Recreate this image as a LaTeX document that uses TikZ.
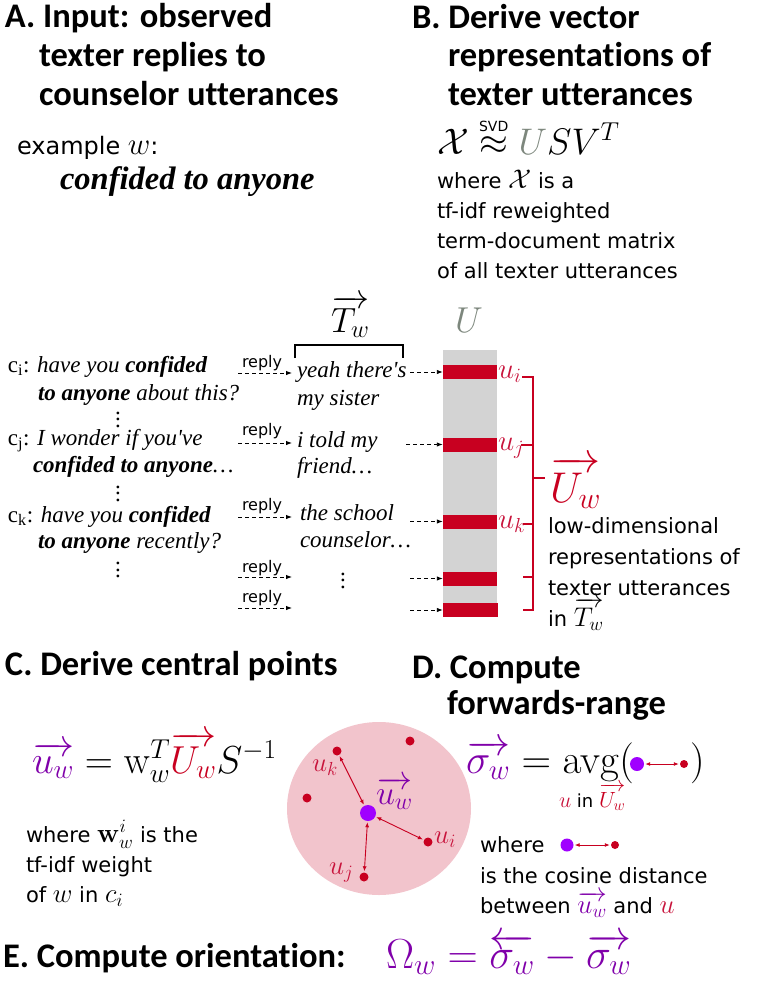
\RequirePackage{fix-cm}
\documentclass[tikz,border=0pt]{standalone}
\usepackage{amsmath}
\usepackage[no-math]{fontspec}
\usetikzlibrary{arrows.meta,shapes.geometric}
\newfontfamily\headfont{Carlito}[Ligatures=NoCommon]
\newfontfamily\bodyfont{DejaVu Sans}
\newfontfamily\serfont{Liberation Serif}
\definecolor{crim}{RGB}{200,0,32}
\definecolor{colgray}{RGB}{211,211,211}
\definecolor{umath}{RGB}{125,135,125}
\definecolor{purp}{RGB}{128,0,170}
\definecolor{dotpurp}{RGB}{160,0,255}
\definecolor{pinkc}{RGB}{242,196,204}
\definecolor{redtxt}{RGB}{200,20,60}
\newcommand\HeadF{\headfont\bfseries\fontsize{34.5}{39}\selectfont}
\newcommand\BodyF{\bodyfont\fontsize{21}{30}\selectfont}
\newcommand\ConvF{\serfont\fontsize{23}{27}\selectfont}
\newcommand\ReplyF{\bodyfont\fontsize{16}{16}\selectfont}
\newcommand\BM[1]{{\fontsize{27}{30}\selectfont$#1$}}
\newcommand\VD{\vbox{\serfont\fontsize{23}{27}\selectfont\baselineskip6.5pt\lineskiplimit0pt\hbox{.}\hbox{.}\hbox{.}}}
\tikzset{
  txt/.style={anchor=base west, inner sep=0pt, outer sep=0pt},
  head/.style={txt, font=\HeadF},
  body/.style={txt, font=\BodyF},
  conv/.style={txt, font=\ConvF},
  replylab/.style={txt, font=\ReplyF},
  dasharrow/.style={dash pattern=on 4pt off 3pt, line width=0.9pt, -{Latex[length=6pt,width=4.5pt]}},
  redbar/.style={rectangle, fill=crim, inner sep=0pt, minimum width=54pt, minimum height=14pt},
  reddot/.style={circle, fill=crim, inner sep=0pt, minimum size=9pt},
  purpdot/.style={circle, fill=dotpurp, inner sep=0pt, minimum size=16pt},
  dist/.style={crim, line width=0.9pt, {Latex[length=5pt,width=4pt]}-{Latex[length=5pt,width=4pt]}},
  vdotsn/.style={inner sep=0pt},
  bracketline/.style={crim, line width=1.1pt}
}
\begin{document}
\begin{tikzpicture}[x=1pt,y=-1pt]
\useasboundingbox (0,0) rectangle (759,989);
% ---------- A ----------
\node[head] (hA1) at (5,27) {A. Input: observed};
\node[head] (hA2) at (39,66) {texter replies to};
\node[head] (hA3) at (39,105) {counselor utterances};
\node[txt, font=\bodyfont\fontsize{24}{28}\selectfont] (ex) at (17,154) {example {\fontsize{31}{32}\selectfont$w$}:};
\node[txt, font=\serfont\bfseries\itshape\fontsize{32.5}{34}\selectfont] (exw) at (60,189) {confided to anyone};
% ---------- B ----------
\node[head] (hB1) at (412,28) {B. Derive vector};
\node[head] (hB2) at (448,66) {representations of};
\node[head] (hB3) at (448,105) {texter utterances};
\node[txt, font=\fontsize{37}{40}\selectfont] (svd) at (437,154)
  {$\mathcal{X} \overset{\hbox{\bodyfont\fontsize{14}{14}\selectfont SVD}}{\approx} {\color{umath}U} SV^T$};
\node[body] (bw1) at (437,188) {where \BM{\mathcal{X}} is a};
\node[body] (bw2) at (437,218) {tf-idf reweighted};
\node[body] (bw3) at (437,248) {term-document matrix};
\node[body] (bw4) at (437,278) {of all texter utterances};
% ---------- T_w bracket and U ----------
\node[txt, font=\fontsize{35}{36}\selectfont] (Tw) at (331,332) {$\overrightarrow{T_w}$};
\coordinate (brL) at (295,358);
\coordinate (brR) at (403,358);
\draw[line width=2pt] (brL) -- (295,345) -- (403,345) -- (brR);
\node[txt, font=\fontsize{36}{38}\selectfont] (Ulab) at (455,332) {$\color{umath}U$};
\fill[colgray] (443,350) rectangle (497,617);
\node[redbar] (b1) at (470,372) {};
\node[redbar] (b2) at (470,444.5) {};
\node[redbar] (b3) at (470,521.5) {};
\node[redbar] (b4) at (470,578.5) {};
\node[redbar, minimum width=55pt] (b5) at (470.5,610) {};
\node[txt, font=\fontsize{29}{30}\selectfont] (ui) at (498,378) {$\color{redtxt}u_i$};
\node[txt, font=\fontsize{29}{30}\selectfont] (uj) at (498,450) {$\color{redtxt}u_j$};
\node[txt, font=\fontsize{29}{30}\selectfont] (uk) at (498,528) {$\color{redtxt}u_k$};
\draw[bracketline] (522,377) -- (533,377) -- (533,610) -- (523,610);
\draw[bracketline] (521,445) -- (533,445);
\draw[bracketline] (523,524) -- (533,524);
\draw[bracketline] (523,577) -- (533,577);
\draw[bracketline] (533,478) -- (545,478);
\node[txt, font=\fontsize{43}{44}\selectfont] (Uw) at (550,502) {$\color{crim}\overrightarrow{U_w}$};
\node[body] (ld1) at (548,533) {low-dimensional};
\node[body] (ld2) at (548,564) {representations of};
\node[body] (ld3) at (548,595) {texter utterances};
\node[body] (ld4) at (548,626) {in \BM{\overrightarrow{T_w}}};
% ---------- conversation ----------
\node[conv] (ci1) at (8,372) {c\textsubscript{i}: \textit{have you \textbf{confided}}};
\node[conv] (ci2) at (38,400) {\textit{\textbf{to anyone} about this?}};
\node[vdotsn] (d1) at (118,419.5) {\VD};
\node[conv] (cj1) at (8,445) {c\textsubscript{j}: \textit{I wonder if you've}};
\node[conv] (cj2) at (33,472) {\textit{\textbf{confided to anyone}\ldots}};
\node[vdotsn] (d2) at (118,493.5) {\VD};
\node[conv] (ck1) at (8,522) {c\textsubscript{k}: \textit{have you \textbf{confided}}};
\node[conv] (ck2) at (38,548) {\textit{\textbf{to anyone} recently?}};
\node[vdotsn] (d3) at (118,570) {\VD};
% replies
\node[conv] (r1a) at (297,377) {\textit{yeah there's}};
\node[conv] (r1b) at (297,405) {\textit{my sister}};
\node[conv] (r2a) at (297,447) {\textit{i told my}};
\node[conv] (r2b) at (297,473) {\textit{friend\ldots}};
\node[conv] (r3a) at (300,520) {\textit{the school}};
\node[conv] (r3b) at (300,547) {\textit{counselor\ldots}};
\node[vdotsn] (d4) at (343,580.5) {\VD};
% reply arrows
\foreach \i/\ya/\yt in {1/373/367, 2/443/435, 3/517/510, 4/577/572, 5/608/602}{
  \coordinate (rs\i) at (238,\ya);
  \coordinate (re\i) at (292,\ya);
  \node[replylab] (rl\i) at (242,\yt) {reply};
  \draw[dasharrow] (rs\i) -- (re\i);
}
% arrows into U
\coordinate (us1) at (410,372);
\coordinate (us2) at (406,444.5);
\coordinate (us3) at (410,521.5);
\coordinate (us4) at (410,578.5);
\coordinate (us5) at (410,610);
\foreach \i in {1,...,5}{ \draw[dasharrow] (us\i) -- (b\i.west); }
% ---------- C ----------
\node[head] (hC) at (5,675) {C. Derive central points};
\node[txt, font=\fontsize{39}{40}\selectfont] (cf) at (32,773)
  {${\color{purp}\overrightarrow{u_w}} = \mathrm{w}_w^T {\color{crim}\overrightarrow{U_w}} S^{-1}$};
\node[body] (cw1) at (26,842) {where \BM{\mathbf{w}_w^i} is the};
\node[body] (cw2) at (26,872) {tf-idf weight};
\node[body] (cw3) at (26,902) {of \BM{w} in \BM{c_i}};
% ---------- D ----------
\node[head] (hD1) at (412,678) {D. Compute};
\node[head] (hD2) at (447,714) {forwards-range};
\node[ellipse, fill=pinkc, minimum width=184pt, minimum height=173pt, inner sep=0pt] (circ) at (379,808.5) {};
\node[purpdot] (pc) at (368,813) {};
\node[reddot] (pk) at (337,751) {};
\node[reddot] (p2) at (410,741) {};
\node[reddot] (p3) at (307,798) {};
\node[reddot] (pi) at (428,842) {};
\node[reddot] (pj) at (364,877) {};
\draw[dist, shorten <=1pt, shorten >=1pt] (pc) -- (pk);
\draw[dist, shorten <=1pt, shorten >=1pt] (pc) -- (pi);
\draw[dist, shorten <=1pt, shorten >=1pt] (pc) -- (pj);
\node[txt, font=\fontsize{27}{28}\selectfont] (lk) at (312,771) {$\color{redtxt}u_k$};
\node[txt, font=\fontsize{34}{36}\selectfont] (lw) at (376,804) {$\color{purp}\overrightarrow{u_w}$};
\node[txt, font=\fontsize{27}{28}\selectfont] (li) at (434,843) {$\color{redtxt}u_i$};
\node[txt, font=\fontsize{27}{28}\selectfont] (lj) at (329,874) {$\color{redtxt}u_j$};
% sigma formula
\node[txt, font=\fontsize{41}{42}\selectfont] (sf) at (466,773)
  {${\color{purp}\overrightarrow{\sigma_w}} = \mathrm{avg}($};
\node[purpdot, minimum size=14pt] (sp) at (637,764) {};
\node[reddot, minimum size=8pt] (sr) at (684,764) {};
\draw[dist, shorten <=1pt, shorten >=1pt] (sp) -- (sr);
\node[txt, font=\fontsize{41}{42}\selectfont] (sfc) at (690,773) {$)$};
\node[txt, font=\bodyfont\fontsize{18}{20}\selectfont] (uin) at (559,807)
  {{\fontsize{22}{24}\selectfont$\color{redtxt}u$} in {\fontsize{22}{24}\selectfont$\color{crim}\overrightarrow{U_w}$}};
\node[body] (dw1) at (480,852) {where};
\node[purpdot, minimum size=13pt] (wp) at (567,845) {};
\node[reddot, minimum size=8pt] (wr) at (615,845) {};
\draw[dist, shorten <=1pt, shorten >=1pt] (wp) -- (wr);
\node[body] (dw2) at (480,883) {is the cosine distance};
\node[body] (dw3) at (480,913) {between \BM{\color{purp}\overrightarrow{u_w}} and \BM{\color{redtxt}u}};
% ---------- E ----------
\node[head] (hE) at (3,967) {E. Compute orientation:};
\node[txt, font=\fontsize{42}{44}\selectfont] (ef) at (386,968)
  {$\color{purp}\Omega_w = \overleftarrow{\sigma_w} - \overrightarrow{\sigma_w}$};
\end{tikzpicture}
\end{document}
